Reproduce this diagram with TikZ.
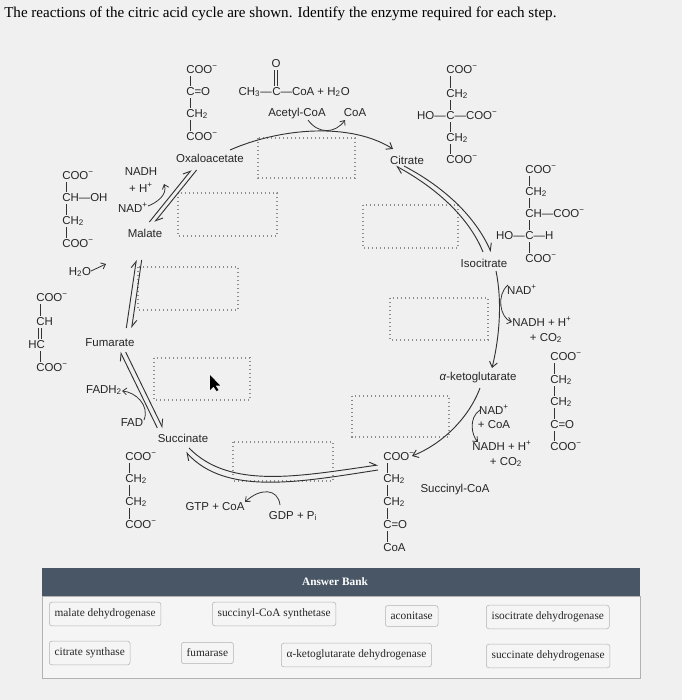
\documentclass[tikz,border=0pt]{standalone}
\usepackage{fontspec}
\setmainfont{Liberation Sans}
\newfontfamily\seriff{Liberation Serif}
\usetikzlibrary{arrows.meta}
\definecolor{barcol}{RGB}{72,86,102}
\newcommand\sub[1]{\textsubscript{#1}}
\newcommand\ssp[1]{\textsuperscript{#1}}
\newcommand\coo{COO\ssp{−}}
\begin{document}
\begin{tikzpicture}[x=0.75pt,y=-0.75pt,
  every node/.style={inner sep=0pt,font=\fontsize{8.6}{9}\selectfont,text=black!85},
  L/.style={anchor=west},
  R/.style={anchor=east},
  bond/.style={line width=0.6pt,black!80},
  ln/.style={line width=0.7pt,black!80},
  fw/.style={ln,-{Straight Barb[left,length=5pt,width=6pt]}},
  arr/.style={ln,-{Straight Barb[length=4pt,width=6pt]}},
  sarr/.style={line width=0.6pt,black!80,-{Straight Barb[length=3pt,width=5pt]}},
  ebox/.style={draw=black!45,dotted,line width=1pt},
  bank/.style={draw=black!30,fill=black!4,rounded corners=2pt,inner xsep=4pt,inner ysep=5pt,font=\seriff\fontsize{8.5}{10}\selectfont}]
\fill[white!94!black] (0,0) rectangle (682,700);
\useasboundingbox (0,0) rectangle (682,700);
\node[anchor=west,font=\seriff\fontsize{11.3}{12}\selectfont,text=black] (title) at (4,14) {The reactions of the citric acid cycle are shown. Identify the enzyme required for each step.};
\newcommand\vbond[3]{\draw[bond] (#1,#2) -- (#1,#3);}
% Oxaloacetate
\node[L] (o1) at (186,70) {\coo};
\node[L] (o2) at (186,92) {C=O};
\node[L] (o3) at (186,114) {CH\sub2};
\node[L] (o4) at (186,137) {\coo};
\vbond{190}{76}{86}\vbond{190}{98}{108}\vbond{190}{120}{131}
\node (oxa) at (210,158) {Oxaloacetate};
% Acetyl-CoA
\node[R] (ac1) at (272,92) {CH\sub3—};
\node[L] (ac2) at (272,92) {C—CoA + H\sub2O};
\node (ox) at (276,64) {O};
\draw[bond] (274.8,70)--(274.8,86) (277.2,70)--(277.2,86);
\node (acoa) at (297,114) {Acetyl-CoA};
\node (coa1) at (355,113) {CoA};
\draw[sarr] (308,120) .. controls (318,134) and (335,134) .. (345,120);
% Citrate
\node[L] (c1) at (446,70) {\coo};
\node[L] (c2) at (446,94) {CH\sub2};
\node[R] (c3a) at (446,116) {HO—};
\node[L] (c3) at (446,116) {C—\coo};
\node[L] (c4) at (446,138) {CH\sub2};
\node[L] (c5) at (446,160) {\coo};
\vbond{450}{76}{88}\vbond{450}{100}{110}\vbond{450}{122}{132}\vbond{450}{144}{154}
\node (cit) at (407,160) {Citrate};
% Isocitrate
\node[L] (i1) at (525,170) {\coo};
\node[L] (i2) at (525,192) {CH\sub2};
\node[L] (i3) at (525,214) {CH—\coo};
\node[R] (i4a) at (525,236) {HO—};
\node[L] (i4) at (525,236) {C—H};
\node[L] (i5) at (525,259) {\coo};
\vbond{529}{176}{186}\vbond{529}{198}{208}\vbond{529}{220}{230}\vbond{529}{242}{253}
\node (iso) at (484,263) {Isocitrate};
\node (nad1) at (522,290) {NAD\ssp+};
\node (nadh1) at (542,322) {NADH + H\ssp+};
\node (co21) at (546,338) {+ CO\sub2};
% alpha-KG
\node (akg) at (478,378) {\textit{α}-ketoglutarate};
\node[L] (k1) at (550,357) {\coo};
\node[L] (k2) at (550,380) {CH\sub2};
\node[L] (k3) at (550,402) {CH\sub2};
\node[L] (k4) at (550,425) {C=O};
\node[L] (k5) at (550,447) {\coo};
\vbond{554}{363}{374}\vbond{554}{386}{396}\vbond{554}{408}{419}\vbond{554}{431}{441}
\node (nad2) at (494,410) {NAD\ssp+};
\node (coa2) at (494,425) {+ CoA};
\node (nadh2) at (502,446) {NADH + H\ssp+};
\node (co22) at (506,462) {+ CO\sub2};
% Succinyl-CoA
\node[L] (s1) at (383,457) {\coo};
\node[L] (s2) at (383,479) {CH\sub2};
\node[L] (s3) at (383,502) {CH\sub2};
\node[L] (s4) at (383,525) {C=O};
\node[L] (s5) at (383,548) {CoA};
\vbond{387}{463}{473}\vbond{387}{485}{496}\vbond{387}{508}{519}\vbond{387}{531}{542}
\node (scoa) at (455,490) {Succinyl-CoA};
\node (gtp) at (215,507) {GTP + CoA};
\node (gdp) at (293,516) {GDP + P\sub{i}};
% Succinate
\node (suc) at (183,438) {Succinate};
\node[L] (u1) at (125,457) {\coo};
\node[L] (u2) at (125,479) {CH\sub2};
\node[L] (u3) at (125,502) {CH\sub2};
\node[L] (u4) at (125,525) {\coo};
\vbond{129}{463}{473}\vbond{129}{485}{496}\vbond{129}{508}{519}
\node (fad) at (132,423) {FAD};
\node (fadh) at (104,390) {FADH\sub2};
% Fumarate
\node (fum) at (110,343) {Fumarate};
\node[L] (f1) at (36,298) {\coo};
\node[L] (f2) at (36,322) {CH};
\node[L] (f3) at (28,345) {HC};
\node[L] (f4) at (36,368) {\coo};
\vbond{40}{304}{316}\draw[bond] (38.8,328)--(38.8,339) (41.2,328)--(41.2,339);\vbond{40}{351}{362}
\node (h2o) at (80,272) {H\sub2O};
% Malate
\node[L] (m1) at (62,176) {\coo};
\node[L] (m2) at (62,198) {CH—OH};
\node[L] (m3) at (62,221) {CH\sub2};
\node[L] (m4) at (62,244) {\coo};
\vbond{66}{182}{192}\vbond{66}{204}{215}\vbond{66}{227}{238}
\node (mal) at (145,233) {Malate};
\node (nadh3) at (141,172) {NADH};
\node (hp3) at (141,188) {+ H\ssp+};
\node (nad3) at (133,208) {NAD\ssp+};
% boxes
\draw[ebox] (258,138) rectangle (355,178);
\draw[ebox] (178,193) rectangle (277,236);
\draw[ebox] (138,267) rectangle (238,310);
\draw[ebox] (363,205) rectangle (458,248);
\draw[ebox] (390,298) rectangle (488,340);
\draw[ebox] (154,358) rectangle (250,400);
\draw[ebox] (233,442) rectangle (333,481);
\draw[ebox] (352,396) rectangle (449,437);
% cursor
\fill[black] (210,375) -- (210,390) -- (213.5,386.5) -- (216.5,391) -- (218.5,390) -- (215.5,385.5) -- (220,385.5) -- cycle;
% reactions
\draw[arr] (230,150) .. controls (280,128) and (350,122) .. (393,149);
\coordinate (mo1) at (152,222); \coordinate (mo2) at (194,170);
\draw[fw] ([xshift=-2pt]mo1) -- ([xshift=-2pt]mo2);
\draw[fw] ([xshift=2pt]mo2) -- ([xshift=2pt]mo1);
\draw[sarr] (148,206) .. controls (156,203) and (168,195) .. (164,184);
\coordinate (fm1) at (129,328); \coordinate (fm2) at (139,260);
\draw[fw] ([xshift=-2pt]fm1) -- ([xshift=-2pt]fm2);
\draw[fw] ([xshift=2pt]fm2) -- ([xshift=2pt]fm1);
\draw[sarr] (91,271) -- (106,264);
\coordinate (sf1) at (160,428); \coordinate (sf2) at (123,352);
\draw[fw] ([xshift=-2pt]sf1) -- ([xshift=-2pt]sf2);
\draw[fw] ([xshift=2pt]sf2) -- ([xshift=2pt]sf1);
\draw[sarr] (144,420) .. controls (150,405) and (135,392) .. (122,391);
\draw[fw] (189,448) .. controls (230,490) and (300,476) .. (378,465);
\draw[fw] (378,470) .. controls (300,482) and (226,496) .. (186,452);
\draw[sarr] (280,505) .. controls (278,488) and (260,488) .. (245,502);
\coordinate (ci1) at (400,166); \coordinate (ci2) at (487,252);
\draw[fw] ([xshift=-3pt]ci2) .. controls (470,220) and (440,190) .. ([xshift=-3pt]ci1);
\draw[fw] ([xshift=3pt]ci1) .. controls (446,188) and (476,218) .. ([xshift=3pt]ci2);
\draw[arr] (496,271) .. controls (502,300) and (500,335) .. (492,368);
\draw[sarr] (508,285) .. controls (496,295) and (500,318) .. (512,322);
\draw[arr] (480,388) .. controls (468,420) and (440,445) .. (412,456);
\draw[sarr] (480,410) .. controls (468,418) and (472,436) .. (478,442);
% answer bank
\fill[white!96!black] (42,596) rectangle (640,678);
\draw[black!30] (42,596) rectangle (640,678);
\fill[barcol] (42,568) rectangle (640,596);
\node[font=\seriff\bfseries\fontsize{8.5}{10}\selectfont,text=white] (ab) at (335,582) {Answer Bank};
\node[bank,anchor=west] (b1) at (49,614) {malate dehydrogenase};
\node[bank,anchor=west] (b2) at (212,614) {succinyl-CoA synthetase};
\node[bank,anchor=west] (b3) at (385,616) {aconitase};
\node[bank,anchor=west] (b4) at (486,617) {isocitrate dehydrogenase};
\node[bank,anchor=west] (b5) at (49,653) {citrate synthase};
\node[bank,anchor=west] (b6) at (181,653) {fumarase};
\node[bank,anchor=west] (b7) at (281,655) {α-ketoglutarate dehydrogenase};
\node[bank,anchor=west] (b8) at (486,656) {succinate dehydrogenase};
\end{tikzpicture}
\end{document}
